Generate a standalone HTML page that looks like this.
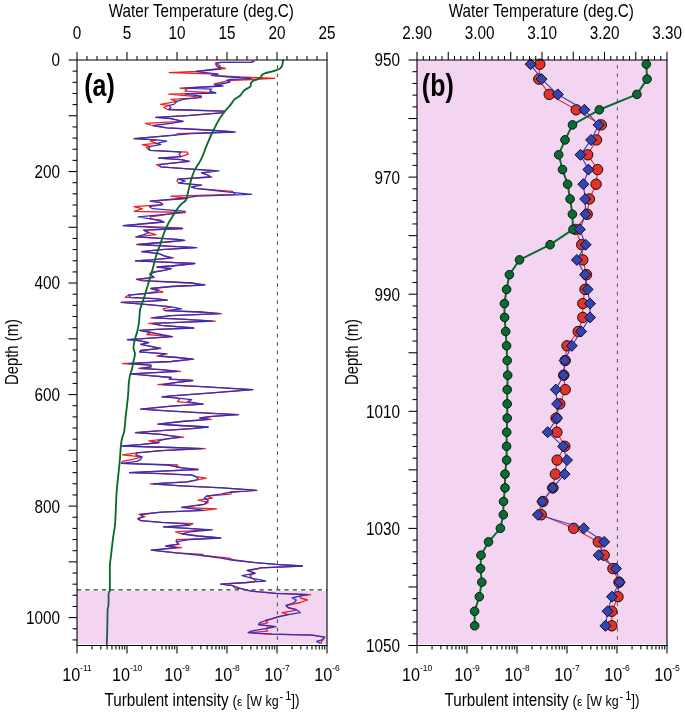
<!DOCTYPE html>
<html><head><meta charset="utf-8"><title>Figure</title>
<style>html,body{margin:0;padding:0;background:#fff;width:685px;height:714px;overflow:hidden}svg{display:block}</style>
</head><body>
<svg width="685" height="714" viewBox="0 0 685 714" font-family="'Liberation Sans', Arial, sans-serif"><rect x="77" y="591" width="250" height="53" fill="#f3d5f1"/>
<rect x="417" y="60" width="250" height="584" fill="#f3d5f1"/>
<line x1="277.4" y1="65" x2="277.4" y2="645" stroke="#444" stroke-width="1" stroke-dasharray="3.6 4.8"/>
<line x1="77" y1="589.8" x2="327" y2="589.8" stroke="#333" stroke-width="1.3" stroke-dasharray="4.2 4.1"/>
<line x1="617.4" y1="65" x2="617.4" y2="645" stroke="#555" stroke-width="1" stroke-dasharray="3.6 4.8"/>
<polyline points="254.4,61.1 251.3,62.1 221.7,62.3 215.5,62.9 216.1,64.2 220.1,65.7 217.6,66.7 225.3,68.5 196.0,71.5 169.2,72.7 218.0,74.2 211.5,75.3 240.0,77.0 274.7,78.3 252.2,79.5 226.8,80.5 223.4,82.0 214.2,84.0 215.0,85.2 220.0,86.0 180.0,88.1 187.2,89.1 185.0,91.1 215.8,92.8 168.8,94.2 191.3,96.2 201.5,97.7 170.9,99.3 177.0,101.3 160.7,104.4 168.8,105.4 163.7,107.5 167.8,109.5 223.0,111.2 224.0,112.6 187.2,115.7 156.6,117.3 170.9,118.7 183.1,121.4 145.3,123.4 152.5,125.5 166.8,127.9 207.7,130.0 232.2,132.0 178.0,133.6 175.0,135.1 134.1,138.6 156.6,139.8 150.4,141.2 156.6,143.3 142.3,144.7 150.4,146.3 146.3,147.4 148.4,149.4 150.4,150.4 187.2,152.1 188.2,154.1 181.1,156.6 158.6,158.2 181.1,159.6 189.3,161.3 177.0,162.7 156.6,164.7 160.7,166.8 181.1,168.4 216.0,170.9 201.5,172.9 207.7,175.0 211.7,177.0 178.0,179.1 177.0,181.1 179.0,183.2 201.5,185.2 191.3,186.9 195.4,188.3 232.2,191.3 235.2,194.4 170.9,196.1 187.2,198.5 150.4,201.2 160.7,202.6 162.7,204.6 134.1,206.7 142.3,208.7 134.1,211.4 185.2,212.5 170.9,213.8 150.4,216.9 150.4,218.9 160.7,220.5 162.0,222.0 123.3,225.7 181.5,227.8 182.6,228.6 143.7,230.2 148.8,232.7 156.0,234.7 135.5,236.8 177.4,239.4 184.6,240.4 161.1,242.5 136.6,244.5 167.2,246.2 196.9,247.6 161.1,249.6 141.7,251.7 159.0,253.7 164.2,255.8 173.4,257.8 150.9,259.9 135.5,260.9 159.0,261.9 194.8,263.5 171.3,266.0 157.0,267.0 171.3,268.7 165.2,270.1 150.9,272.2 149.9,274.2 153.9,277.3 136.6,279.3 142.7,280.9 191.7,283.0 199.9,285.0 171.3,286.5 150.9,288.5 159.0,290.5 163.1,292.0 144.7,293.6 128.4,295.2 125.3,297.3 155.0,298.7 167.2,300.2 146.8,301.4 121.2,302.4 150.9,304.9 171.3,306.9 163.1,308.9 165.0,310.6 199.9,312.0 221.4,313.7 171.3,315.7 150.9,317.8 181.5,319.2 215.3,321.2 148.8,323.3 161.1,325.3 193.8,328.0 157.0,329.4 139.6,330.4 150.9,332.5 146.8,334.5 172.3,336.6 150.9,338.2 127.4,339.6 138.6,340.7 148.8,342.7 140.7,344.3 150.9,346.4 161.1,348.4 140.7,350.5 139.6,351.9 167.2,353.9 157.0,356.0 177.4,357.5 193.8,359.1 171.3,361.5 122.3,363.6 150.9,365.2 150.9,366.9 138.6,368.3 161.1,369.7 180.5,371.4 130.4,373.8 146.8,375.4 171.3,377.5 169.3,379.1 192.8,380.5 175.4,382.6 158.0,384.6 202.0,386.7 252.0,389.7 212.2,392.8 171.3,395.9 162.1,396.9 177.4,397.9 179.5,399.6 177.4,401.6 203.0,404.1 171.3,406.1 140.7,409.2 171.3,411.2 212.2,413.3 238.7,414.7 212.2,416.3 199.9,418.0 211.2,419.4 181.5,421.5 158.0,424.1 179.5,425.5 208.1,427.0 191.7,428.6 161.1,430.7 135.5,432.7 161.1,434.3 171.3,435.8 183.6,437.2 167.2,438.8 148.8,440.9 159.0,442.5 140.7,444.6 122.3,446.0 171.5,447.5 205.2,448.7 161.3,450.7 136.8,452.8 122.5,454.8 141.9,456.9 132.7,459.3 122.5,461.3 121.5,463.4 177.7,465.0 175.6,466.5 181.7,467.9 198.1,469.5 161.3,471.2 129.6,472.6 161.3,473.6 192.0,475.2 196.1,476.7 206.3,478.1 196.1,480.2 185.8,481.8 150.1,483.8 181.7,485.9 222.6,487.9 255.0,490.3 231.5,492.0 230.8,494.1 206.3,496.1 212.4,498.2 198.1,500.2 208.3,502.3 204.2,504.3 181.7,507.4 216.5,508.8 204.2,510.4 161.3,512.1 138.8,514.5 145.0,516.6 137.8,518.6 140.9,520.7 161.3,522.3 193.0,523.7 189.9,525.2 163.4,526.8 187.9,528.4 206.3,529.9 175.6,531.9 181.7,533.9 198.1,536.0 220.6,538.0 176.3,539.7 176.3,541.6 178.9,544.2 165.8,546.0 181.5,547.6 151.3,550.2 176.3,552.9 203.0,554.4 203.0,555.5 229.3,558.1 234.1,560.0 255.1,562.6 276.1,564.4 302.4,566.0 260.4,567.8 257.7,569.2 247.2,570.5 255.1,573.1 249.8,575.7 252.5,578.4 256.4,581.0 247.2,582.5 220.7,584.1 232.9,585.7 239.3,587.8 243.1,589.2 251.3,591.2 275.8,593.3 310.6,594.7 300.4,595.9 300.4,598.0 307.5,600.0 300.4,602.5 286.1,605.5 288.1,607.6 296.3,609.6 294.2,610.7 282.0,612.7 288.1,614.7 277.9,616.8 271.7,618.8 265.6,620.5 267.7,622.9 258.5,624.6 273.8,626.6 265.6,628.6 267.7,631.1 249.3,632.7 271.7,634.2 312.6,635.2 323.9,637.2 322.8,639.7 321.8,641.3 320.8,643.4" fill="none" stroke="#f02020" stroke-width="1.3" stroke-linejoin="round" />
<polyline points="254.4,61.1 251.3,62.1 221.7,62.3 218.1,62.9 216.1,64.2 216.1,65.7 217.6,66.7 221.0,68.5 196.0,71.5 218.0,74.2 211.5,75.3 229.0,77.0 251.3,78.3 230.9,79.5 226.8,80.5 230.0,82.0 221.3,84.0 215.0,85.2 223.0,86.0 185.2,88.1 211.7,89.1 209.7,91.1 215.8,92.8 185.2,94.2 201.5,96.2 197.4,97.7 183.1,99.3 177.0,101.3 173.9,104.4 168.8,105.4 170.9,107.5 168.8,109.5 225.0,111.2 224.0,112.6 187.2,115.7 155.5,117.3 170.9,118.7 183.1,121.4 170.9,123.4 153.5,125.5 166.8,127.9 207.7,130.0 235.2,132.0 191.3,133.6 175.0,135.1 134.1,138.6 156.6,139.8 166.8,141.2 156.6,143.3 160.7,144.7 150.4,146.3 148.4,149.4 150.4,150.4 181.1,152.1 179.0,154.1 181.1,156.6 158.6,158.2 181.1,159.6 189.3,161.3 177.0,162.7 159.6,164.7 160.7,166.8 181.1,168.4 218.9,170.9 201.5,172.9 207.7,175.0 209.7,177.0 178.0,179.1 185.2,181.1 179.0,183.2 201.5,185.2 191.3,186.9 195.4,188.3 222.0,191.3 251.6,194.4 197.4,196.1 181.1,198.5 150.4,201.2 160.7,202.6 162.7,204.6 149.4,206.7 152.5,208.7 185.2,211.4 170.9,213.8 138.2,216.9 150.4,218.9 160.7,220.5 164.2,222.0 123.3,225.7 159.0,227.8 182.6,228.6 143.7,230.2 148.8,232.7 143.7,234.7 136.6,236.8 177.4,239.4 184.6,240.4 161.1,242.5 138.6,244.5 167.2,246.2 195.8,247.6 161.1,249.6 141.7,251.7 159.0,253.7 164.2,255.8 171.3,257.8 150.9,259.9 135.5,260.9 159.0,261.9 194.8,263.5 171.3,266.0 157.0,267.0 171.3,268.7 165.2,270.1 155.0,272.2 149.9,274.2 153.9,277.3 136.6,279.3 150.9,280.9 191.7,283.0 205.0,285.0 171.3,286.5 150.9,288.5 159.0,290.5 155.0,292.0 144.7,293.6 128.4,295.2 130.4,297.3 155.0,298.7 167.2,300.2 146.8,301.4 121.2,302.4 150.9,304.9 171.3,306.9 181.5,308.9 165.0,310.6 199.9,312.0 219.3,313.7 171.3,315.7 152.9,317.8 181.5,319.2 212.2,321.2 152.9,323.3 161.1,325.3 193.8,328.0 157.0,329.4 139.6,330.4 150.9,332.5 161.1,334.5 172.3,336.6 150.9,338.2 127.4,339.6 138.6,340.7 148.8,342.7 140.7,344.3 150.9,346.4 160.1,348.4 140.7,350.5 139.6,351.9 165.2,353.9 159.0,356.0 177.4,357.5 192.8,359.1 171.3,361.5 128.4,363.6 150.9,365.2 150.9,366.9 140.7,368.3 161.1,369.7 177.4,371.4 130.4,373.8 146.8,375.4 171.3,377.5 169.3,379.1 192.8,380.5 175.4,382.6 163.1,384.6 202.0,386.7 253.0,389.7 212.2,392.8 171.3,395.9 162.1,396.9 175.4,397.9 191.7,399.6 187.7,401.6 203.0,404.1 171.3,406.1 140.7,409.2 171.3,411.2 212.2,413.3 237.7,414.7 212.2,416.3 199.9,418.0 208.1,419.4 181.5,421.5 158.0,424.1 179.5,425.5 208.1,427.0 191.7,428.6 161.1,430.7 135.5,432.7 161.1,434.3 171.3,435.8 179.5,437.2 167.2,438.8 158.0,440.9 159.0,442.5 140.7,444.6 122.3,446.0 171.5,447.5 202.2,448.7 161.3,450.7 136.8,452.8 135.8,454.8 141.9,456.9 140.9,459.3 136.8,461.3 121.5,463.4 167.4,465.0 175.6,466.5 181.7,467.9 198.1,469.5 161.3,471.2 129.6,472.6 161.3,473.6 192.0,475.2 196.1,476.7 198.1,478.1 196.1,480.2 187.9,481.8 153.1,483.8 181.7,485.9 222.6,487.9 257.0,490.3 231.5,492.0 220.6,494.1 206.3,496.1 204.2,498.2 208.3,500.2 206.3,502.3 204.2,504.3 181.7,507.4 194.0,508.8 204.2,510.4 161.3,512.1 140.9,514.5 142.9,516.6 137.8,518.6 140.9,520.7 161.3,522.3 181.7,523.7 189.9,525.2 163.4,526.8 187.9,528.4 212.4,529.9 189.9,531.9 181.7,533.9 198.1,536.0 220.6,538.0 189.4,539.7 176.3,541.6 178.9,544.2 165.8,546.0 176.3,547.6 151.3,550.2 176.3,552.9 202.5,555.5 220.9,558.1 231.5,560.0 255.1,562.6 276.1,564.4 302.4,566.0 260.4,567.8 247.2,570.5 255.1,573.1 242.0,575.7 252.5,578.4 265.6,581.0 247.2,582.5 220.7,584.1 232.9,585.7 235.0,587.8 243.1,589.2 251.3,591.2 275.8,593.3 307.5,594.7 300.4,595.9 292.2,598.0 296.3,600.0 294.2,602.5 286.1,605.5 288.1,607.6 296.3,609.6 300.4,612.7 288.1,614.7 277.9,616.8 271.7,618.8 265.6,620.5 259.5,622.9 258.5,624.6 275.8,626.6 265.6,628.6 251.3,631.1 248.2,632.7 271.7,634.2 312.6,635.2 324.9,637.2 322.8,639.7 316.7,641.3 320.8,643.4" fill="none" stroke="#3030c0" stroke-width="1.3" stroke-linejoin="round" />
<path d="M283.10,60.50 C282.92,61.38 282.50,64.48 282.00,65.80 C281.50,67.12 281.02,67.67 280.10,68.40 C279.18,69.13 277.95,69.65 276.50,70.20 C275.05,70.75 273.23,71.22 271.40,71.70 C269.57,72.18 267.08,72.55 265.50,73.10 C263.92,73.65 262.75,74.20 261.90,75.00 C261.05,75.80 261.13,77.18 260.40,77.90 C259.67,78.62 258.72,78.82 257.50,79.30 C256.28,79.78 254.20,80.12 253.10,80.80 C252.00,81.48 251.32,82.48 250.90,83.40 C250.48,84.32 251.08,85.52 250.60,86.30 C250.12,87.08 249.03,87.43 248.00,88.10 C246.97,88.77 245.37,89.52 244.40,90.30 C243.43,91.08 242.93,91.88 242.20,92.80 C241.47,93.72 241.30,94.70 240.00,95.80 C238.70,96.90 235.95,97.93 234.40,99.40 C232.85,100.87 232.28,102.63 230.70,104.60 C229.12,106.57 226.73,108.88 224.90,111.20 C223.07,113.52 221.30,115.93 219.70,118.50 C218.10,121.07 216.65,124.02 215.30,126.60 C213.95,129.18 212.70,131.67 211.60,134.00 C210.50,136.33 209.68,138.28 208.70,140.60 C207.72,142.92 206.57,145.70 205.70,147.90 C204.83,150.10 204.35,151.72 203.50,153.80 C202.65,155.88 201.70,158.32 200.60,160.40 C199.50,162.48 198.00,164.45 196.90,166.30 C195.80,168.15 194.98,169.17 194.00,171.50 C193.02,173.83 191.87,177.37 191.00,180.30 C190.13,183.23 189.40,186.65 188.80,189.10 C188.20,191.55 187.88,193.17 187.40,195.00 C186.92,196.83 187.02,198.50 185.90,200.10 C184.78,201.70 182.30,202.88 180.70,204.60 C179.10,206.32 177.65,208.45 176.30,210.40 C174.95,212.35 173.82,214.33 172.60,216.30 C171.38,218.27 170.22,219.98 169.00,222.20 C167.78,224.42 166.40,227.03 165.30,229.60 C164.20,232.17 163.27,235.03 162.40,237.60 C161.53,240.17 160.97,242.53 160.10,245.00 C159.23,247.47 158.05,249.95 157.20,252.40 C156.35,254.85 155.73,257.02 155.00,259.70 C154.27,262.38 153.53,265.80 152.80,268.50 C152.07,271.20 151.33,273.45 150.60,275.90 C149.87,278.35 149.13,280.75 148.40,283.20 C147.67,285.65 146.93,288.15 146.20,290.60 C145.47,293.05 144.63,295.93 144.00,297.90 C143.37,299.87 143.05,300.43 142.40,302.40 C141.75,304.37 140.60,307.25 140.10,309.70 C139.60,312.15 139.63,314.65 139.40,317.10 C139.17,319.55 139.07,321.95 138.70,324.40 C138.33,326.85 137.82,329.35 137.20,331.80 C136.58,334.25 135.62,336.42 135.00,339.10 C134.38,341.78 133.50,345.45 133.50,347.90 C133.50,350.35 135.00,351.58 135.00,353.80 C135.00,356.02 133.98,358.75 133.50,361.20 C133.02,363.65 132.70,366.05 132.10,368.50 C131.50,370.95 130.45,373.45 129.90,375.90 C129.35,378.35 129.05,380.75 128.80,383.20 C128.55,385.65 128.60,387.80 128.40,390.60 C128.20,393.40 128.03,395.87 127.60,400.00 C127.17,404.13 126.35,410.27 125.80,415.40 C125.25,420.53 124.93,426.95 124.30,430.80 C123.67,434.65 122.57,435.93 122.00,438.50 C121.43,441.07 121.28,442.35 120.90,446.20 C120.52,450.05 120.17,456.47 119.70,461.60 C119.23,466.73 118.62,471.87 118.10,477.00 C117.58,482.13 116.95,487.73 116.60,492.40 C116.25,497.07 116.27,499.57 116.00,505.00 C115.73,510.43 115.50,519.45 115.00,525.00 C114.50,530.55 113.67,533.20 113.00,538.30 C112.33,543.40 111.52,551.17 111.00,555.60 C110.48,560.03 110.08,561.13 109.90,564.90 C109.72,568.67 109.92,573.92 109.90,578.20 C109.88,582.48 109.82,588.53 109.80,590.60" fill="none" stroke="#0a6a2e" stroke-width="1.85" stroke-linecap="round" stroke-linejoin="round"/>
<path d="M109.80,590.60 C109.60,591.17 108.80,592.43 108.60,594.00 C108.40,595.57 108.63,598.00 108.60,600.00 C108.57,602.00 108.55,604.50 108.40,606.00 C108.25,607.50 107.87,606.67 107.70,609.00 C107.53,611.33 107.48,616.17 107.40,620.00 C107.32,623.83 107.30,628.00 107.20,632.00 C107.10,636.00 106.87,642.00 106.80,644.00" fill="none" stroke="#1f5a4c" stroke-width="1.8" stroke-linecap="round" stroke-linejoin="round"/>
<polyline points="539.8,64.2 538.8,79.1 549.2,94.4 576.2,109.8 601.3,124.9 596.5,139.9 587.7,154.8 597.6,169.6 596.1,184.2 589.4,199.0 587.2,214.2 575.5,229.4 581.7,244.7 582.8,259.9 586.5,274.7 585.0,289.4 582.8,303.6 582.8,317.4 578.2,331.5 567.0,345.8 565.2,360.5 563.7,375.2 565.2,389.6 559.8,403.9 556.1,418.1 556.9,432.2 564.8,446.3 557.1,460.1 555.4,474.1 552.8,487.9 542.9,501.5 541.2,514.8 573.6,528.3 598.3,541.9 604.2,555.2 612.9,568.6 619.0,582.2 618.0,596.7 611.8,611.3 611.8,625.8" fill="none" stroke="#e8302a" stroke-width="1.15" stroke-linejoin="round" />
<circle cx="539.8" cy="64.2" r="5.2" fill="#e2332a" stroke="#1a0a0a" stroke-width="1"/>
<circle cx="538.8" cy="79.1" r="5.2" fill="#e2332a" stroke="#1a0a0a" stroke-width="1"/>
<circle cx="549.2" cy="94.4" r="5.2" fill="#e2332a" stroke="#1a0a0a" stroke-width="1"/>
<circle cx="576.2" cy="109.8" r="5.2" fill="#e2332a" stroke="#1a0a0a" stroke-width="1"/>
<circle cx="601.3" cy="124.9" r="5.2" fill="#e2332a" stroke="#1a0a0a" stroke-width="1"/>
<circle cx="596.5" cy="139.9" r="5.2" fill="#e2332a" stroke="#1a0a0a" stroke-width="1"/>
<circle cx="587.7" cy="154.8" r="5.2" fill="#e2332a" stroke="#1a0a0a" stroke-width="1"/>
<circle cx="597.6" cy="169.6" r="5.2" fill="#e2332a" stroke="#1a0a0a" stroke-width="1"/>
<circle cx="596.1" cy="184.2" r="5.2" fill="#e2332a" stroke="#1a0a0a" stroke-width="1"/>
<circle cx="589.4" cy="199.0" r="5.2" fill="#e2332a" stroke="#1a0a0a" stroke-width="1"/>
<circle cx="587.2" cy="214.2" r="5.2" fill="#e2332a" stroke="#1a0a0a" stroke-width="1"/>
<circle cx="575.5" cy="229.4" r="5.2" fill="#e2332a" stroke="#1a0a0a" stroke-width="1"/>
<circle cx="581.7" cy="244.7" r="5.2" fill="#e2332a" stroke="#1a0a0a" stroke-width="1"/>
<circle cx="582.8" cy="259.9" r="5.2" fill="#e2332a" stroke="#1a0a0a" stroke-width="1"/>
<circle cx="586.5" cy="274.7" r="5.2" fill="#e2332a" stroke="#1a0a0a" stroke-width="1"/>
<circle cx="585.0" cy="289.4" r="5.2" fill="#e2332a" stroke="#1a0a0a" stroke-width="1"/>
<circle cx="582.8" cy="303.6" r="5.2" fill="#e2332a" stroke="#1a0a0a" stroke-width="1"/>
<circle cx="582.8" cy="317.4" r="5.2" fill="#e2332a" stroke="#1a0a0a" stroke-width="1"/>
<circle cx="578.2" cy="331.5" r="5.2" fill="#e2332a" stroke="#1a0a0a" stroke-width="1"/>
<circle cx="567.0" cy="345.8" r="5.2" fill="#e2332a" stroke="#1a0a0a" stroke-width="1"/>
<circle cx="565.2" cy="360.5" r="5.2" fill="#e2332a" stroke="#1a0a0a" stroke-width="1"/>
<circle cx="563.7" cy="375.2" r="5.2" fill="#e2332a" stroke="#1a0a0a" stroke-width="1"/>
<circle cx="565.2" cy="389.6" r="5.2" fill="#e2332a" stroke="#1a0a0a" stroke-width="1"/>
<circle cx="559.8" cy="403.9" r="5.2" fill="#e2332a" stroke="#1a0a0a" stroke-width="1"/>
<circle cx="556.1" cy="418.1" r="5.2" fill="#e2332a" stroke="#1a0a0a" stroke-width="1"/>
<circle cx="556.9" cy="432.2" r="5.2" fill="#e2332a" stroke="#1a0a0a" stroke-width="1"/>
<circle cx="564.8" cy="446.3" r="5.2" fill="#e2332a" stroke="#1a0a0a" stroke-width="1"/>
<circle cx="557.1" cy="460.1" r="5.2" fill="#e2332a" stroke="#1a0a0a" stroke-width="1"/>
<circle cx="555.4" cy="474.1" r="5.2" fill="#e2332a" stroke="#1a0a0a" stroke-width="1"/>
<circle cx="552.8" cy="487.9" r="5.2" fill="#e2332a" stroke="#1a0a0a" stroke-width="1"/>
<circle cx="542.9" cy="501.5" r="5.2" fill="#e2332a" stroke="#1a0a0a" stroke-width="1"/>
<circle cx="541.2" cy="514.8" r="5.2" fill="#e2332a" stroke="#1a0a0a" stroke-width="1"/>
<circle cx="573.6" cy="528.3" r="5.2" fill="#e2332a" stroke="#1a0a0a" stroke-width="1"/>
<circle cx="598.3" cy="541.9" r="5.2" fill="#e2332a" stroke="#1a0a0a" stroke-width="1"/>
<circle cx="604.2" cy="555.2" r="5.2" fill="#e2332a" stroke="#1a0a0a" stroke-width="1"/>
<circle cx="612.9" cy="568.6" r="5.2" fill="#e2332a" stroke="#1a0a0a" stroke-width="1"/>
<circle cx="619.0" cy="582.2" r="5.2" fill="#e2332a" stroke="#1a0a0a" stroke-width="1"/>
<circle cx="618.0" cy="596.7" r="5.2" fill="#e2332a" stroke="#1a0a0a" stroke-width="1"/>
<circle cx="611.8" cy="611.3" r="5.2" fill="#e2332a" stroke="#1a0a0a" stroke-width="1"/>
<circle cx="611.8" cy="625.8" r="5.2" fill="#e2332a" stroke="#1a0a0a" stroke-width="1"/>
<polyline points="646.3,64.2 647.1,79.1 636.9,94.4 599.3,109.8 572.5,124.9 565.0,139.9 558.7,154.8 562.5,169.6 567.6,184.2 570.1,199.0 572.4,214.2 573.0,229.4 550.1,244.7 519.5,259.9 509.4,274.7 506.6,289.4 504.4,303.6 504.6,317.4 505.7,331.5 506.6,345.8 507.2,360.5 507.7,375.2 507.2,389.6 507.2,403.9 507.2,418.1 506.7,432.2 506.6,446.3 506.6,460.1 505.0,474.1 505.0,487.9 503.5,501.5 503.3,514.8 500.4,528.3 488.5,541.9 481.0,555.2 480.5,568.6 481.8,582.2 479.3,596.7 474.6,611.3 474.7,625.8" fill="none" stroke="#0b6b30" stroke-width="2.0" stroke-linejoin="round" />
<circle cx="646.3" cy="64.2" r="4.3" fill="#0b6b35" stroke="#061a0c" stroke-width="1"/>
<circle cx="647.1" cy="79.1" r="4.3" fill="#0b6b35" stroke="#061a0c" stroke-width="1"/>
<circle cx="636.9" cy="94.4" r="4.3" fill="#0b6b35" stroke="#061a0c" stroke-width="1"/>
<circle cx="599.3" cy="109.8" r="4.3" fill="#0b6b35" stroke="#061a0c" stroke-width="1"/>
<circle cx="572.5" cy="124.9" r="4.3" fill="#0b6b35" stroke="#061a0c" stroke-width="1"/>
<circle cx="565.0" cy="139.9" r="4.3" fill="#0b6b35" stroke="#061a0c" stroke-width="1"/>
<circle cx="558.7" cy="154.8" r="4.3" fill="#0b6b35" stroke="#061a0c" stroke-width="1"/>
<circle cx="562.5" cy="169.6" r="4.3" fill="#0b6b35" stroke="#061a0c" stroke-width="1"/>
<circle cx="567.6" cy="184.2" r="4.3" fill="#0b6b35" stroke="#061a0c" stroke-width="1"/>
<circle cx="570.1" cy="199.0" r="4.3" fill="#0b6b35" stroke="#061a0c" stroke-width="1"/>
<circle cx="572.4" cy="214.2" r="4.3" fill="#0b6b35" stroke="#061a0c" stroke-width="1"/>
<circle cx="573.0" cy="229.4" r="4.3" fill="#0b6b35" stroke="#061a0c" stroke-width="1"/>
<circle cx="550.1" cy="244.7" r="4.3" fill="#0b6b35" stroke="#061a0c" stroke-width="1"/>
<circle cx="519.5" cy="259.9" r="4.3" fill="#0b6b35" stroke="#061a0c" stroke-width="1"/>
<circle cx="509.4" cy="274.7" r="4.3" fill="#0b6b35" stroke="#061a0c" stroke-width="1"/>
<circle cx="506.6" cy="289.4" r="4.3" fill="#0b6b35" stroke="#061a0c" stroke-width="1"/>
<circle cx="504.4" cy="303.6" r="4.3" fill="#0b6b35" stroke="#061a0c" stroke-width="1"/>
<circle cx="504.6" cy="317.4" r="4.3" fill="#0b6b35" stroke="#061a0c" stroke-width="1"/>
<circle cx="505.7" cy="331.5" r="4.3" fill="#0b6b35" stroke="#061a0c" stroke-width="1"/>
<circle cx="506.6" cy="345.8" r="4.3" fill="#0b6b35" stroke="#061a0c" stroke-width="1"/>
<circle cx="507.2" cy="360.5" r="4.3" fill="#0b6b35" stroke="#061a0c" stroke-width="1"/>
<circle cx="507.7" cy="375.2" r="4.3" fill="#0b6b35" stroke="#061a0c" stroke-width="1"/>
<circle cx="507.2" cy="389.6" r="4.3" fill="#0b6b35" stroke="#061a0c" stroke-width="1"/>
<circle cx="507.2" cy="403.9" r="4.3" fill="#0b6b35" stroke="#061a0c" stroke-width="1"/>
<circle cx="507.2" cy="418.1" r="4.3" fill="#0b6b35" stroke="#061a0c" stroke-width="1"/>
<circle cx="506.7" cy="432.2" r="4.3" fill="#0b6b35" stroke="#061a0c" stroke-width="1"/>
<circle cx="506.6" cy="446.3" r="4.3" fill="#0b6b35" stroke="#061a0c" stroke-width="1"/>
<circle cx="506.6" cy="460.1" r="4.3" fill="#0b6b35" stroke="#061a0c" stroke-width="1"/>
<circle cx="505.0" cy="474.1" r="4.3" fill="#0b6b35" stroke="#061a0c" stroke-width="1"/>
<circle cx="505.0" cy="487.9" r="4.3" fill="#0b6b35" stroke="#061a0c" stroke-width="1"/>
<circle cx="503.5" cy="501.5" r="4.3" fill="#0b6b35" stroke="#061a0c" stroke-width="1"/>
<circle cx="503.3" cy="514.8" r="4.3" fill="#0b6b35" stroke="#061a0c" stroke-width="1"/>
<circle cx="500.4" cy="528.3" r="4.3" fill="#0b6b35" stroke="#061a0c" stroke-width="1"/>
<circle cx="488.5" cy="541.9" r="4.3" fill="#0b6b35" stroke="#061a0c" stroke-width="1"/>
<circle cx="481.0" cy="555.2" r="4.3" fill="#0b6b35" stroke="#061a0c" stroke-width="1"/>
<circle cx="480.5" cy="568.6" r="4.3" fill="#0b6b35" stroke="#061a0c" stroke-width="1"/>
<circle cx="481.8" cy="582.2" r="4.3" fill="#0b6b35" stroke="#061a0c" stroke-width="1"/>
<circle cx="479.3" cy="596.7" r="4.3" fill="#0b6b35" stroke="#061a0c" stroke-width="1"/>
<circle cx="474.6" cy="611.3" r="4.3" fill="#0b6b35" stroke="#061a0c" stroke-width="1"/>
<circle cx="474.7" cy="625.8" r="4.3" fill="#0b6b35" stroke="#061a0c" stroke-width="1"/>
<polyline points="530.6,64.2 541.5,79.1 557.8,94.4 584.4,109.8 598.7,124.9 591.1,139.9 580.5,154.8 588.4,169.6 583.4,184.2 585.2,199.0 585.5,214.2 579.8,229.4 585.6,244.7 576.9,259.9 585.0,274.7 587.6,289.4 590.0,303.6 590.0,317.4 581.1,331.5 571.8,345.8 564.8,360.5 563.7,375.2 555.8,389.6 557.1,403.9 557.1,418.1 547.7,432.2 563.1,446.3 567.0,460.1 564.6,474.1 552.8,487.9 542.3,501.5 537.9,514.8 583.8,528.3 604.2,541.9 598.7,555.2 616.0,568.6 619.7,582.2 612.0,596.7 607.6,611.3 605.5,625.8" fill="none" stroke="#3a40b8" stroke-width="1.15" stroke-linejoin="round" />
<path d="M530.6,58.7 L536.1,64.2 L530.6,69.7 L525.1,64.2 Z" fill="#3545ad" stroke="#0a0a30" stroke-width="1"/>
<path d="M541.5,73.6 L547.0,79.1 L541.5,84.6 L536.0,79.1 Z" fill="#3545ad" stroke="#0a0a30" stroke-width="1"/>
<path d="M557.8,88.9 L563.3,94.4 L557.8,99.9 L552.3,94.4 Z" fill="#3545ad" stroke="#0a0a30" stroke-width="1"/>
<path d="M584.4,104.3 L589.9,109.8 L584.4,115.3 L578.9,109.8 Z" fill="#3545ad" stroke="#0a0a30" stroke-width="1"/>
<path d="M598.7,119.4 L604.2,124.9 L598.7,130.4 L593.2,124.9 Z" fill="#3545ad" stroke="#0a0a30" stroke-width="1"/>
<path d="M591.1,134.4 L596.6,139.9 L591.1,145.4 L585.6,139.9 Z" fill="#3545ad" stroke="#0a0a30" stroke-width="1"/>
<path d="M580.5,149.3 L586.0,154.8 L580.5,160.3 L575.0,154.8 Z" fill="#3545ad" stroke="#0a0a30" stroke-width="1"/>
<path d="M588.4,164.1 L593.9,169.6 L588.4,175.1 L582.9,169.6 Z" fill="#3545ad" stroke="#0a0a30" stroke-width="1"/>
<path d="M583.4,178.7 L588.9,184.2 L583.4,189.7 L577.9,184.2 Z" fill="#3545ad" stroke="#0a0a30" stroke-width="1"/>
<path d="M585.2,193.5 L590.7,199.0 L585.2,204.5 L579.7,199.0 Z" fill="#3545ad" stroke="#0a0a30" stroke-width="1"/>
<path d="M585.5,208.7 L591.0,214.2 L585.5,219.7 L580.0,214.2 Z" fill="#3545ad" stroke="#0a0a30" stroke-width="1"/>
<path d="M579.8,223.9 L585.3,229.4 L579.8,234.9 L574.3,229.4 Z" fill="#3545ad" stroke="#0a0a30" stroke-width="1"/>
<path d="M585.6,239.2 L591.1,244.7 L585.6,250.2 L580.1,244.7 Z" fill="#3545ad" stroke="#0a0a30" stroke-width="1"/>
<path d="M576.9,254.4 L582.4,259.9 L576.9,265.4 L571.4,259.9 Z" fill="#3545ad" stroke="#0a0a30" stroke-width="1"/>
<path d="M585.0,269.2 L590.5,274.7 L585.0,280.2 L579.5,274.7 Z" fill="#3545ad" stroke="#0a0a30" stroke-width="1"/>
<path d="M587.6,283.9 L593.1,289.4 L587.6,294.9 L582.1,289.4 Z" fill="#3545ad" stroke="#0a0a30" stroke-width="1"/>
<path d="M590.0,298.1 L595.5,303.6 L590.0,309.1 L584.5,303.6 Z" fill="#3545ad" stroke="#0a0a30" stroke-width="1"/>
<path d="M590.0,311.9 L595.5,317.4 L590.0,322.9 L584.5,317.4 Z" fill="#3545ad" stroke="#0a0a30" stroke-width="1"/>
<path d="M581.1,326.0 L586.6,331.5 L581.1,337.0 L575.6,331.5 Z" fill="#3545ad" stroke="#0a0a30" stroke-width="1"/>
<path d="M571.8,340.3 L577.3,345.8 L571.8,351.3 L566.3,345.8 Z" fill="#3545ad" stroke="#0a0a30" stroke-width="1"/>
<path d="M564.8,355.0 L570.3,360.5 L564.8,366.0 L559.3,360.5 Z" fill="#3545ad" stroke="#0a0a30" stroke-width="1"/>
<path d="M563.7,369.7 L569.2,375.2 L563.7,380.7 L558.2,375.2 Z" fill="#3545ad" stroke="#0a0a30" stroke-width="1"/>
<path d="M555.8,384.1 L561.3,389.6 L555.8,395.1 L550.3,389.6 Z" fill="#3545ad" stroke="#0a0a30" stroke-width="1"/>
<path d="M557.1,398.4 L562.6,403.9 L557.1,409.4 L551.6,403.9 Z" fill="#3545ad" stroke="#0a0a30" stroke-width="1"/>
<path d="M557.1,412.6 L562.6,418.1 L557.1,423.6 L551.6,418.1 Z" fill="#3545ad" stroke="#0a0a30" stroke-width="1"/>
<path d="M547.7,426.7 L553.2,432.2 L547.7,437.7 L542.2,432.2 Z" fill="#3545ad" stroke="#0a0a30" stroke-width="1"/>
<path d="M563.1,440.8 L568.6,446.3 L563.1,451.8 L557.6,446.3 Z" fill="#3545ad" stroke="#0a0a30" stroke-width="1"/>
<path d="M567.0,454.6 L572.5,460.1 L567.0,465.6 L561.5,460.1 Z" fill="#3545ad" stroke="#0a0a30" stroke-width="1"/>
<path d="M564.6,468.6 L570.1,474.1 L564.6,479.6 L559.1,474.1 Z" fill="#3545ad" stroke="#0a0a30" stroke-width="1"/>
<path d="M552.8,482.4 L558.3,487.9 L552.8,493.4 L547.3,487.9 Z" fill="#3545ad" stroke="#0a0a30" stroke-width="1"/>
<path d="M542.3,496.0 L547.8,501.5 L542.3,507.0 L536.8,501.5 Z" fill="#3545ad" stroke="#0a0a30" stroke-width="1"/>
<path d="M537.9,509.3 L543.4,514.8 L537.9,520.3 L532.4,514.8 Z" fill="#3545ad" stroke="#0a0a30" stroke-width="1"/>
<path d="M583.8,522.8 L589.3,528.3 L583.8,533.8 L578.3,528.3 Z" fill="#3545ad" stroke="#0a0a30" stroke-width="1"/>
<path d="M604.2,536.4 L609.7,541.9 L604.2,547.4 L598.7,541.9 Z" fill="#3545ad" stroke="#0a0a30" stroke-width="1"/>
<path d="M598.7,549.7 L604.2,555.2 L598.7,560.7 L593.2,555.2 Z" fill="#3545ad" stroke="#0a0a30" stroke-width="1"/>
<path d="M616.0,563.1 L621.5,568.6 L616.0,574.1 L610.5,568.6 Z" fill="#3545ad" stroke="#0a0a30" stroke-width="1"/>
<path d="M619.7,576.7 L625.2,582.2 L619.7,587.7 L614.2,582.2 Z" fill="#3545ad" stroke="#0a0a30" stroke-width="1"/>
<path d="M612.0,591.2 L617.5,596.7 L612.0,602.2 L606.5,596.7 Z" fill="#3545ad" stroke="#0a0a30" stroke-width="1"/>
<path d="M607.6,605.8 L613.1,611.3 L607.6,616.8 L602.1,611.3 Z" fill="#3545ad" stroke="#0a0a30" stroke-width="1"/>
<path d="M605.5,620.3 L611.0,625.8 L605.5,631.3 L600.0,625.8 Z" fill="#3545ad" stroke="#0a0a30" stroke-width="1"/>
<path d="M77,645.5 L77,60 L327,60 L327,645.5" fill="none" stroke="#000" stroke-width="1.1"/>
<line x1="76.5" y1="645.5" x2="327.5" y2="645.5" stroke="#000" stroke-width="1.1"/>
<line x1="68.5" y1="60.00" x2="77" y2="60.00" stroke="#000" stroke-width="1.05"/>
<line x1="72.5" y1="71.15" x2="77" y2="71.15" stroke="#000" stroke-width="1.05"/>
<line x1="72.5" y1="82.30" x2="77" y2="82.30" stroke="#000" stroke-width="1.05"/>
<line x1="72.5" y1="93.46" x2="77" y2="93.46" stroke="#000" stroke-width="1.05"/>
<line x1="72.5" y1="104.61" x2="77" y2="104.61" stroke="#000" stroke-width="1.05"/>
<line x1="68.5" y1="115.76" x2="77" y2="115.76" stroke="#000" stroke-width="1.05"/>
<line x1="72.5" y1="126.91" x2="77" y2="126.91" stroke="#000" stroke-width="1.05"/>
<line x1="72.5" y1="138.07" x2="77" y2="138.07" stroke="#000" stroke-width="1.05"/>
<line x1="72.5" y1="149.22" x2="77" y2="149.22" stroke="#000" stroke-width="1.05"/>
<line x1="72.5" y1="160.37" x2="77" y2="160.37" stroke="#000" stroke-width="1.05"/>
<line x1="68.5" y1="171.52" x2="77" y2="171.52" stroke="#000" stroke-width="1.05"/>
<line x1="72.5" y1="182.68" x2="77" y2="182.68" stroke="#000" stroke-width="1.05"/>
<line x1="72.5" y1="193.83" x2="77" y2="193.83" stroke="#000" stroke-width="1.05"/>
<line x1="72.5" y1="204.98" x2="77" y2="204.98" stroke="#000" stroke-width="1.05"/>
<line x1="72.5" y1="216.13" x2="77" y2="216.13" stroke="#000" stroke-width="1.05"/>
<line x1="68.5" y1="227.29" x2="77" y2="227.29" stroke="#000" stroke-width="1.05"/>
<line x1="72.5" y1="238.44" x2="77" y2="238.44" stroke="#000" stroke-width="1.05"/>
<line x1="72.5" y1="249.59" x2="77" y2="249.59" stroke="#000" stroke-width="1.05"/>
<line x1="72.5" y1="260.74" x2="77" y2="260.74" stroke="#000" stroke-width="1.05"/>
<line x1="72.5" y1="271.90" x2="77" y2="271.90" stroke="#000" stroke-width="1.05"/>
<line x1="68.5" y1="283.05" x2="77" y2="283.05" stroke="#000" stroke-width="1.05"/>
<line x1="72.5" y1="294.20" x2="77" y2="294.20" stroke="#000" stroke-width="1.05"/>
<line x1="72.5" y1="305.35" x2="77" y2="305.35" stroke="#000" stroke-width="1.05"/>
<line x1="72.5" y1="316.50" x2="77" y2="316.50" stroke="#000" stroke-width="1.05"/>
<line x1="72.5" y1="327.66" x2="77" y2="327.66" stroke="#000" stroke-width="1.05"/>
<line x1="68.5" y1="338.81" x2="77" y2="338.81" stroke="#000" stroke-width="1.05"/>
<line x1="72.5" y1="349.96" x2="77" y2="349.96" stroke="#000" stroke-width="1.05"/>
<line x1="72.5" y1="361.11" x2="77" y2="361.11" stroke="#000" stroke-width="1.05"/>
<line x1="72.5" y1="372.27" x2="77" y2="372.27" stroke="#000" stroke-width="1.05"/>
<line x1="72.5" y1="383.42" x2="77" y2="383.42" stroke="#000" stroke-width="1.05"/>
<line x1="68.5" y1="394.57" x2="77" y2="394.57" stroke="#000" stroke-width="1.05"/>
<line x1="72.5" y1="405.72" x2="77" y2="405.72" stroke="#000" stroke-width="1.05"/>
<line x1="72.5" y1="416.88" x2="77" y2="416.88" stroke="#000" stroke-width="1.05"/>
<line x1="72.5" y1="428.03" x2="77" y2="428.03" stroke="#000" stroke-width="1.05"/>
<line x1="72.5" y1="439.18" x2="77" y2="439.18" stroke="#000" stroke-width="1.05"/>
<line x1="68.5" y1="450.33" x2="77" y2="450.33" stroke="#000" stroke-width="1.05"/>
<line x1="72.5" y1="461.49" x2="77" y2="461.49" stroke="#000" stroke-width="1.05"/>
<line x1="72.5" y1="472.64" x2="77" y2="472.64" stroke="#000" stroke-width="1.05"/>
<line x1="72.5" y1="483.79" x2="77" y2="483.79" stroke="#000" stroke-width="1.05"/>
<line x1="72.5" y1="494.94" x2="77" y2="494.94" stroke="#000" stroke-width="1.05"/>
<line x1="68.5" y1="506.10" x2="77" y2="506.10" stroke="#000" stroke-width="1.05"/>
<line x1="72.5" y1="517.25" x2="77" y2="517.25" stroke="#000" stroke-width="1.05"/>
<line x1="72.5" y1="528.40" x2="77" y2="528.40" stroke="#000" stroke-width="1.05"/>
<line x1="72.5" y1="539.55" x2="77" y2="539.55" stroke="#000" stroke-width="1.05"/>
<line x1="72.5" y1="550.70" x2="77" y2="550.70" stroke="#000" stroke-width="1.05"/>
<line x1="68.5" y1="561.86" x2="77" y2="561.86" stroke="#000" stroke-width="1.05"/>
<line x1="72.5" y1="573.01" x2="77" y2="573.01" stroke="#000" stroke-width="1.05"/>
<line x1="72.5" y1="584.16" x2="77" y2="584.16" stroke="#000" stroke-width="1.05"/>
<line x1="72.5" y1="595.31" x2="77" y2="595.31" stroke="#000" stroke-width="1.05"/>
<line x1="72.5" y1="606.47" x2="77" y2="606.47" stroke="#000" stroke-width="1.05"/>
<line x1="68.5" y1="617.62" x2="77" y2="617.62" stroke="#000" stroke-width="1.05"/>
<line x1="72.5" y1="628.77" x2="77" y2="628.77" stroke="#000" stroke-width="1.05"/>
<line x1="72.5" y1="639.92" x2="77" y2="639.92" stroke="#000" stroke-width="1.05"/>
<line x1="77.00" y1="52" x2="77.00" y2="60" stroke="#000" stroke-width="1.05"/>
<line x1="87.00" y1="56" x2="87.00" y2="60" stroke="#000" stroke-width="1.05"/>
<line x1="97.00" y1="56" x2="97.00" y2="60" stroke="#000" stroke-width="1.05"/>
<line x1="107.00" y1="56" x2="107.00" y2="60" stroke="#000" stroke-width="1.05"/>
<line x1="117.00" y1="56" x2="117.00" y2="60" stroke="#000" stroke-width="1.05"/>
<line x1="127.00" y1="52" x2="127.00" y2="60" stroke="#000" stroke-width="1.05"/>
<line x1="137.00" y1="56" x2="137.00" y2="60" stroke="#000" stroke-width="1.05"/>
<line x1="147.00" y1="56" x2="147.00" y2="60" stroke="#000" stroke-width="1.05"/>
<line x1="157.00" y1="56" x2="157.00" y2="60" stroke="#000" stroke-width="1.05"/>
<line x1="167.00" y1="56" x2="167.00" y2="60" stroke="#000" stroke-width="1.05"/>
<line x1="177.00" y1="52" x2="177.00" y2="60" stroke="#000" stroke-width="1.05"/>
<line x1="187.00" y1="56" x2="187.00" y2="60" stroke="#000" stroke-width="1.05"/>
<line x1="197.00" y1="56" x2="197.00" y2="60" stroke="#000" stroke-width="1.05"/>
<line x1="207.00" y1="56" x2="207.00" y2="60" stroke="#000" stroke-width="1.05"/>
<line x1="217.00" y1="56" x2="217.00" y2="60" stroke="#000" stroke-width="1.05"/>
<line x1="227.00" y1="52" x2="227.00" y2="60" stroke="#000" stroke-width="1.05"/>
<line x1="237.00" y1="56" x2="237.00" y2="60" stroke="#000" stroke-width="1.05"/>
<line x1="247.00" y1="56" x2="247.00" y2="60" stroke="#000" stroke-width="1.05"/>
<line x1="257.00" y1="56" x2="257.00" y2="60" stroke="#000" stroke-width="1.05"/>
<line x1="267.00" y1="56" x2="267.00" y2="60" stroke="#000" stroke-width="1.05"/>
<line x1="277.00" y1="52" x2="277.00" y2="60" stroke="#000" stroke-width="1.05"/>
<line x1="287.00" y1="56" x2="287.00" y2="60" stroke="#000" stroke-width="1.05"/>
<line x1="297.00" y1="56" x2="297.00" y2="60" stroke="#000" stroke-width="1.05"/>
<line x1="307.00" y1="56" x2="307.00" y2="60" stroke="#000" stroke-width="1.05"/>
<line x1="317.00" y1="56" x2="317.00" y2="60" stroke="#000" stroke-width="1.05"/>
<line x1="327.00" y1="52" x2="327.00" y2="60" stroke="#000" stroke-width="1.05"/>
<line x1="77.00" y1="645.5" x2="77.00" y2="653.5" stroke="#000" stroke-width="1.05"/>
<line x1="92.05" y1="645.5" x2="92.05" y2="649.5" stroke="#000" stroke-width="1.05"/>
<line x1="100.86" y1="645.5" x2="100.86" y2="649.5" stroke="#000" stroke-width="1.05"/>
<line x1="107.10" y1="645.5" x2="107.10" y2="649.5" stroke="#000" stroke-width="1.05"/>
<line x1="111.95" y1="645.5" x2="111.95" y2="649.5" stroke="#000" stroke-width="1.05"/>
<line x1="115.91" y1="645.5" x2="115.91" y2="649.5" stroke="#000" stroke-width="1.05"/>
<line x1="119.25" y1="645.5" x2="119.25" y2="649.5" stroke="#000" stroke-width="1.05"/>
<line x1="122.15" y1="645.5" x2="122.15" y2="649.5" stroke="#000" stroke-width="1.05"/>
<line x1="124.71" y1="645.5" x2="124.71" y2="649.5" stroke="#000" stroke-width="1.05"/>
<line x1="127.00" y1="645.5" x2="127.00" y2="653.5" stroke="#000" stroke-width="1.05"/>
<line x1="142.05" y1="645.5" x2="142.05" y2="649.5" stroke="#000" stroke-width="1.05"/>
<line x1="150.86" y1="645.5" x2="150.86" y2="649.5" stroke="#000" stroke-width="1.05"/>
<line x1="157.10" y1="645.5" x2="157.10" y2="649.5" stroke="#000" stroke-width="1.05"/>
<line x1="161.95" y1="645.5" x2="161.95" y2="649.5" stroke="#000" stroke-width="1.05"/>
<line x1="165.91" y1="645.5" x2="165.91" y2="649.5" stroke="#000" stroke-width="1.05"/>
<line x1="169.25" y1="645.5" x2="169.25" y2="649.5" stroke="#000" stroke-width="1.05"/>
<line x1="172.15" y1="645.5" x2="172.15" y2="649.5" stroke="#000" stroke-width="1.05"/>
<line x1="174.71" y1="645.5" x2="174.71" y2="649.5" stroke="#000" stroke-width="1.05"/>
<line x1="177.00" y1="645.5" x2="177.00" y2="653.5" stroke="#000" stroke-width="1.05"/>
<line x1="192.05" y1="645.5" x2="192.05" y2="649.5" stroke="#000" stroke-width="1.05"/>
<line x1="200.86" y1="645.5" x2="200.86" y2="649.5" stroke="#000" stroke-width="1.05"/>
<line x1="207.10" y1="645.5" x2="207.10" y2="649.5" stroke="#000" stroke-width="1.05"/>
<line x1="211.95" y1="645.5" x2="211.95" y2="649.5" stroke="#000" stroke-width="1.05"/>
<line x1="215.91" y1="645.5" x2="215.91" y2="649.5" stroke="#000" stroke-width="1.05"/>
<line x1="219.25" y1="645.5" x2="219.25" y2="649.5" stroke="#000" stroke-width="1.05"/>
<line x1="222.15" y1="645.5" x2="222.15" y2="649.5" stroke="#000" stroke-width="1.05"/>
<line x1="224.71" y1="645.5" x2="224.71" y2="649.5" stroke="#000" stroke-width="1.05"/>
<line x1="227.00" y1="645.5" x2="227.00" y2="653.5" stroke="#000" stroke-width="1.05"/>
<line x1="242.05" y1="645.5" x2="242.05" y2="649.5" stroke="#000" stroke-width="1.05"/>
<line x1="250.86" y1="645.5" x2="250.86" y2="649.5" stroke="#000" stroke-width="1.05"/>
<line x1="257.10" y1="645.5" x2="257.10" y2="649.5" stroke="#000" stroke-width="1.05"/>
<line x1="261.95" y1="645.5" x2="261.95" y2="649.5" stroke="#000" stroke-width="1.05"/>
<line x1="265.91" y1="645.5" x2="265.91" y2="649.5" stroke="#000" stroke-width="1.05"/>
<line x1="269.25" y1="645.5" x2="269.25" y2="649.5" stroke="#000" stroke-width="1.05"/>
<line x1="272.15" y1="645.5" x2="272.15" y2="649.5" stroke="#000" stroke-width="1.05"/>
<line x1="274.71" y1="645.5" x2="274.71" y2="649.5" stroke="#000" stroke-width="1.05"/>
<line x1="277.00" y1="645.5" x2="277.00" y2="653.5" stroke="#000" stroke-width="1.05"/>
<line x1="292.05" y1="645.5" x2="292.05" y2="649.5" stroke="#000" stroke-width="1.05"/>
<line x1="300.86" y1="645.5" x2="300.86" y2="649.5" stroke="#000" stroke-width="1.05"/>
<line x1="307.10" y1="645.5" x2="307.10" y2="649.5" stroke="#000" stroke-width="1.05"/>
<line x1="311.95" y1="645.5" x2="311.95" y2="649.5" stroke="#000" stroke-width="1.05"/>
<line x1="315.91" y1="645.5" x2="315.91" y2="649.5" stroke="#000" stroke-width="1.05"/>
<line x1="319.25" y1="645.5" x2="319.25" y2="649.5" stroke="#000" stroke-width="1.05"/>
<line x1="322.15" y1="645.5" x2="322.15" y2="649.5" stroke="#000" stroke-width="1.05"/>
<line x1="324.71" y1="645.5" x2="324.71" y2="649.5" stroke="#000" stroke-width="1.05"/>
<line x1="327.00" y1="645.5" x2="327.00" y2="653.5" stroke="#000" stroke-width="1.05"/>
<path d="M417,645.5 L417,60 L667,60 L667,645.5" fill="none" stroke="#000" stroke-width="1.1"/>
<line x1="416.5" y1="645.5" x2="667.5" y2="645.5" stroke="#000" stroke-width="1.1"/>
<line x1="408.5" y1="60.00" x2="417" y2="60.00" stroke="#000" stroke-width="1.05"/>
<line x1="412.5" y1="71.71" x2="417" y2="71.71" stroke="#000" stroke-width="1.05"/>
<line x1="412.5" y1="83.42" x2="417" y2="83.42" stroke="#000" stroke-width="1.05"/>
<line x1="412.5" y1="95.13" x2="417" y2="95.13" stroke="#000" stroke-width="1.05"/>
<line x1="412.5" y1="106.84" x2="417" y2="106.84" stroke="#000" stroke-width="1.05"/>
<line x1="408.5" y1="118.55" x2="417" y2="118.55" stroke="#000" stroke-width="1.05"/>
<line x1="412.5" y1="130.26" x2="417" y2="130.26" stroke="#000" stroke-width="1.05"/>
<line x1="412.5" y1="141.97" x2="417" y2="141.97" stroke="#000" stroke-width="1.05"/>
<line x1="412.5" y1="153.68" x2="417" y2="153.68" stroke="#000" stroke-width="1.05"/>
<line x1="412.5" y1="165.39" x2="417" y2="165.39" stroke="#000" stroke-width="1.05"/>
<line x1="408.5" y1="177.10" x2="417" y2="177.10" stroke="#000" stroke-width="1.05"/>
<line x1="412.5" y1="188.81" x2="417" y2="188.81" stroke="#000" stroke-width="1.05"/>
<line x1="412.5" y1="200.52" x2="417" y2="200.52" stroke="#000" stroke-width="1.05"/>
<line x1="412.5" y1="212.23" x2="417" y2="212.23" stroke="#000" stroke-width="1.05"/>
<line x1="412.5" y1="223.94" x2="417" y2="223.94" stroke="#000" stroke-width="1.05"/>
<line x1="408.5" y1="235.65" x2="417" y2="235.65" stroke="#000" stroke-width="1.05"/>
<line x1="412.5" y1="247.36" x2="417" y2="247.36" stroke="#000" stroke-width="1.05"/>
<line x1="412.5" y1="259.07" x2="417" y2="259.07" stroke="#000" stroke-width="1.05"/>
<line x1="412.5" y1="270.78" x2="417" y2="270.78" stroke="#000" stroke-width="1.05"/>
<line x1="412.5" y1="282.49" x2="417" y2="282.49" stroke="#000" stroke-width="1.05"/>
<line x1="408.5" y1="294.20" x2="417" y2="294.20" stroke="#000" stroke-width="1.05"/>
<line x1="412.5" y1="305.91" x2="417" y2="305.91" stroke="#000" stroke-width="1.05"/>
<line x1="412.5" y1="317.62" x2="417" y2="317.62" stroke="#000" stroke-width="1.05"/>
<line x1="412.5" y1="329.33" x2="417" y2="329.33" stroke="#000" stroke-width="1.05"/>
<line x1="412.5" y1="341.04" x2="417" y2="341.04" stroke="#000" stroke-width="1.05"/>
<line x1="408.5" y1="352.75" x2="417" y2="352.75" stroke="#000" stroke-width="1.05"/>
<line x1="412.5" y1="364.46" x2="417" y2="364.46" stroke="#000" stroke-width="1.05"/>
<line x1="412.5" y1="376.17" x2="417" y2="376.17" stroke="#000" stroke-width="1.05"/>
<line x1="412.5" y1="387.88" x2="417" y2="387.88" stroke="#000" stroke-width="1.05"/>
<line x1="412.5" y1="399.59" x2="417" y2="399.59" stroke="#000" stroke-width="1.05"/>
<line x1="408.5" y1="411.30" x2="417" y2="411.30" stroke="#000" stroke-width="1.05"/>
<line x1="412.5" y1="423.01" x2="417" y2="423.01" stroke="#000" stroke-width="1.05"/>
<line x1="412.5" y1="434.72" x2="417" y2="434.72" stroke="#000" stroke-width="1.05"/>
<line x1="412.5" y1="446.43" x2="417" y2="446.43" stroke="#000" stroke-width="1.05"/>
<line x1="412.5" y1="458.14" x2="417" y2="458.14" stroke="#000" stroke-width="1.05"/>
<line x1="408.5" y1="469.85" x2="417" y2="469.85" stroke="#000" stroke-width="1.05"/>
<line x1="412.5" y1="481.56" x2="417" y2="481.56" stroke="#000" stroke-width="1.05"/>
<line x1="412.5" y1="493.27" x2="417" y2="493.27" stroke="#000" stroke-width="1.05"/>
<line x1="412.5" y1="504.98" x2="417" y2="504.98" stroke="#000" stroke-width="1.05"/>
<line x1="412.5" y1="516.69" x2="417" y2="516.69" stroke="#000" stroke-width="1.05"/>
<line x1="408.5" y1="528.40" x2="417" y2="528.40" stroke="#000" stroke-width="1.05"/>
<line x1="412.5" y1="540.11" x2="417" y2="540.11" stroke="#000" stroke-width="1.05"/>
<line x1="412.5" y1="551.82" x2="417" y2="551.82" stroke="#000" stroke-width="1.05"/>
<line x1="412.5" y1="563.53" x2="417" y2="563.53" stroke="#000" stroke-width="1.05"/>
<line x1="412.5" y1="575.24" x2="417" y2="575.24" stroke="#000" stroke-width="1.05"/>
<line x1="408.5" y1="586.95" x2="417" y2="586.95" stroke="#000" stroke-width="1.05"/>
<line x1="412.5" y1="598.66" x2="417" y2="598.66" stroke="#000" stroke-width="1.05"/>
<line x1="412.5" y1="610.37" x2="417" y2="610.37" stroke="#000" stroke-width="1.05"/>
<line x1="412.5" y1="622.08" x2="417" y2="622.08" stroke="#000" stroke-width="1.05"/>
<line x1="412.5" y1="633.79" x2="417" y2="633.79" stroke="#000" stroke-width="1.05"/>
<line x1="408.5" y1="645.50" x2="417" y2="645.50" stroke="#000" stroke-width="1.05"/>
<line x1="417.00" y1="51.7" x2="417.00" y2="60" stroke="#000" stroke-width="1.05"/>
<line x1="423.25" y1="56" x2="423.25" y2="60" stroke="#000" stroke-width="1.05"/>
<line x1="429.50" y1="56" x2="429.50" y2="60" stroke="#000" stroke-width="1.05"/>
<line x1="435.75" y1="56" x2="435.75" y2="60" stroke="#000" stroke-width="1.05"/>
<line x1="442.00" y1="56" x2="442.00" y2="60" stroke="#000" stroke-width="1.05"/>
<line x1="448.25" y1="51.7" x2="448.25" y2="60" stroke="#000" stroke-width="1.05"/>
<line x1="454.50" y1="56" x2="454.50" y2="60" stroke="#000" stroke-width="1.05"/>
<line x1="460.75" y1="56" x2="460.75" y2="60" stroke="#000" stroke-width="1.05"/>
<line x1="467.00" y1="56" x2="467.00" y2="60" stroke="#000" stroke-width="1.05"/>
<line x1="473.25" y1="56" x2="473.25" y2="60" stroke="#000" stroke-width="1.05"/>
<line x1="479.50" y1="51.7" x2="479.50" y2="60" stroke="#000" stroke-width="1.05"/>
<line x1="485.75" y1="56" x2="485.75" y2="60" stroke="#000" stroke-width="1.05"/>
<line x1="492.00" y1="56" x2="492.00" y2="60" stroke="#000" stroke-width="1.05"/>
<line x1="498.25" y1="56" x2="498.25" y2="60" stroke="#000" stroke-width="1.05"/>
<line x1="504.50" y1="56" x2="504.50" y2="60" stroke="#000" stroke-width="1.05"/>
<line x1="510.75" y1="51.7" x2="510.75" y2="60" stroke="#000" stroke-width="1.05"/>
<line x1="517.00" y1="56" x2="517.00" y2="60" stroke="#000" stroke-width="1.05"/>
<line x1="523.25" y1="56" x2="523.25" y2="60" stroke="#000" stroke-width="1.05"/>
<line x1="529.50" y1="56" x2="529.50" y2="60" stroke="#000" stroke-width="1.05"/>
<line x1="535.75" y1="56" x2="535.75" y2="60" stroke="#000" stroke-width="1.05"/>
<line x1="542.00" y1="51.7" x2="542.00" y2="60" stroke="#000" stroke-width="1.05"/>
<line x1="548.25" y1="56" x2="548.25" y2="60" stroke="#000" stroke-width="1.05"/>
<line x1="554.50" y1="56" x2="554.50" y2="60" stroke="#000" stroke-width="1.05"/>
<line x1="560.75" y1="56" x2="560.75" y2="60" stroke="#000" stroke-width="1.05"/>
<line x1="567.00" y1="56" x2="567.00" y2="60" stroke="#000" stroke-width="1.05"/>
<line x1="573.25" y1="51.7" x2="573.25" y2="60" stroke="#000" stroke-width="1.05"/>
<line x1="579.50" y1="56" x2="579.50" y2="60" stroke="#000" stroke-width="1.05"/>
<line x1="585.75" y1="56" x2="585.75" y2="60" stroke="#000" stroke-width="1.05"/>
<line x1="592.00" y1="56" x2="592.00" y2="60" stroke="#000" stroke-width="1.05"/>
<line x1="598.25" y1="56" x2="598.25" y2="60" stroke="#000" stroke-width="1.05"/>
<line x1="604.50" y1="51.7" x2="604.50" y2="60" stroke="#000" stroke-width="1.05"/>
<line x1="610.75" y1="56" x2="610.75" y2="60" stroke="#000" stroke-width="1.05"/>
<line x1="617.00" y1="56" x2="617.00" y2="60" stroke="#000" stroke-width="1.05"/>
<line x1="623.25" y1="56" x2="623.25" y2="60" stroke="#000" stroke-width="1.05"/>
<line x1="629.50" y1="56" x2="629.50" y2="60" stroke="#000" stroke-width="1.05"/>
<line x1="635.75" y1="51.7" x2="635.75" y2="60" stroke="#000" stroke-width="1.05"/>
<line x1="642.00" y1="56" x2="642.00" y2="60" stroke="#000" stroke-width="1.05"/>
<line x1="648.25" y1="56" x2="648.25" y2="60" stroke="#000" stroke-width="1.05"/>
<line x1="654.50" y1="56" x2="654.50" y2="60" stroke="#000" stroke-width="1.05"/>
<line x1="660.75" y1="56" x2="660.75" y2="60" stroke="#000" stroke-width="1.05"/>
<line x1="667.00" y1="51.7" x2="667.00" y2="60" stroke="#000" stroke-width="1.05"/>
<line x1="417.00" y1="645.5" x2="417.00" y2="653.5" stroke="#000" stroke-width="1.05"/>
<line x1="432.05" y1="645.5" x2="432.05" y2="649.5" stroke="#000" stroke-width="1.05"/>
<line x1="440.86" y1="645.5" x2="440.86" y2="649.5" stroke="#000" stroke-width="1.05"/>
<line x1="447.10" y1="645.5" x2="447.10" y2="649.5" stroke="#000" stroke-width="1.05"/>
<line x1="451.95" y1="645.5" x2="451.95" y2="649.5" stroke="#000" stroke-width="1.05"/>
<line x1="455.91" y1="645.5" x2="455.91" y2="649.5" stroke="#000" stroke-width="1.05"/>
<line x1="459.25" y1="645.5" x2="459.25" y2="649.5" stroke="#000" stroke-width="1.05"/>
<line x1="462.15" y1="645.5" x2="462.15" y2="649.5" stroke="#000" stroke-width="1.05"/>
<line x1="464.71" y1="645.5" x2="464.71" y2="649.5" stroke="#000" stroke-width="1.05"/>
<line x1="467.00" y1="645.5" x2="467.00" y2="653.5" stroke="#000" stroke-width="1.05"/>
<line x1="482.05" y1="645.5" x2="482.05" y2="649.5" stroke="#000" stroke-width="1.05"/>
<line x1="490.86" y1="645.5" x2="490.86" y2="649.5" stroke="#000" stroke-width="1.05"/>
<line x1="497.10" y1="645.5" x2="497.10" y2="649.5" stroke="#000" stroke-width="1.05"/>
<line x1="501.95" y1="645.5" x2="501.95" y2="649.5" stroke="#000" stroke-width="1.05"/>
<line x1="505.91" y1="645.5" x2="505.91" y2="649.5" stroke="#000" stroke-width="1.05"/>
<line x1="509.25" y1="645.5" x2="509.25" y2="649.5" stroke="#000" stroke-width="1.05"/>
<line x1="512.15" y1="645.5" x2="512.15" y2="649.5" stroke="#000" stroke-width="1.05"/>
<line x1="514.71" y1="645.5" x2="514.71" y2="649.5" stroke="#000" stroke-width="1.05"/>
<line x1="517.00" y1="645.5" x2="517.00" y2="653.5" stroke="#000" stroke-width="1.05"/>
<line x1="532.05" y1="645.5" x2="532.05" y2="649.5" stroke="#000" stroke-width="1.05"/>
<line x1="540.86" y1="645.5" x2="540.86" y2="649.5" stroke="#000" stroke-width="1.05"/>
<line x1="547.10" y1="645.5" x2="547.10" y2="649.5" stroke="#000" stroke-width="1.05"/>
<line x1="551.95" y1="645.5" x2="551.95" y2="649.5" stroke="#000" stroke-width="1.05"/>
<line x1="555.91" y1="645.5" x2="555.91" y2="649.5" stroke="#000" stroke-width="1.05"/>
<line x1="559.25" y1="645.5" x2="559.25" y2="649.5" stroke="#000" stroke-width="1.05"/>
<line x1="562.15" y1="645.5" x2="562.15" y2="649.5" stroke="#000" stroke-width="1.05"/>
<line x1="564.71" y1="645.5" x2="564.71" y2="649.5" stroke="#000" stroke-width="1.05"/>
<line x1="567.00" y1="645.5" x2="567.00" y2="653.5" stroke="#000" stroke-width="1.05"/>
<line x1="582.05" y1="645.5" x2="582.05" y2="649.5" stroke="#000" stroke-width="1.05"/>
<line x1="590.86" y1="645.5" x2="590.86" y2="649.5" stroke="#000" stroke-width="1.05"/>
<line x1="597.10" y1="645.5" x2="597.10" y2="649.5" stroke="#000" stroke-width="1.05"/>
<line x1="601.95" y1="645.5" x2="601.95" y2="649.5" stroke="#000" stroke-width="1.05"/>
<line x1="605.91" y1="645.5" x2="605.91" y2="649.5" stroke="#000" stroke-width="1.05"/>
<line x1="609.25" y1="645.5" x2="609.25" y2="649.5" stroke="#000" stroke-width="1.05"/>
<line x1="612.15" y1="645.5" x2="612.15" y2="649.5" stroke="#000" stroke-width="1.05"/>
<line x1="614.71" y1="645.5" x2="614.71" y2="649.5" stroke="#000" stroke-width="1.05"/>
<line x1="617.00" y1="645.5" x2="617.00" y2="653.5" stroke="#000" stroke-width="1.05"/>
<line x1="632.05" y1="645.5" x2="632.05" y2="649.5" stroke="#000" stroke-width="1.05"/>
<line x1="640.86" y1="645.5" x2="640.86" y2="649.5" stroke="#000" stroke-width="1.05"/>
<line x1="647.10" y1="645.5" x2="647.10" y2="649.5" stroke="#000" stroke-width="1.05"/>
<line x1="651.95" y1="645.5" x2="651.95" y2="649.5" stroke="#000" stroke-width="1.05"/>
<line x1="655.91" y1="645.5" x2="655.91" y2="649.5" stroke="#000" stroke-width="1.05"/>
<line x1="659.25" y1="645.5" x2="659.25" y2="649.5" stroke="#000" stroke-width="1.05"/>
<line x1="662.15" y1="645.5" x2="662.15" y2="649.5" stroke="#000" stroke-width="1.05"/>
<line x1="664.71" y1="645.5" x2="664.71" y2="649.5" stroke="#000" stroke-width="1.05"/>
<line x1="667.00" y1="645.5" x2="667.00" y2="653.5" stroke="#000" stroke-width="1.05"/>
<g transform="translate(201.30,17.10) scale(0.874,1)"><text x="0" y="0" font-size="17.5" text-anchor="middle" font-weight="normal" >Water Temperature (deg.C)</text></g>
<g transform="translate(541.30,17.10) scale(0.874,1)"><text x="0" y="0" font-size="17.5" text-anchor="middle" font-weight="normal" >Water Temperature (deg.C)</text></g>
<g transform="translate(77.00,38.60) scale(0.85,1)"><text x="0" y="0" font-size="18" text-anchor="middle" font-weight="normal" >0</text></g>
<g transform="translate(127.00,38.60) scale(0.85,1)"><text x="0" y="0" font-size="18" text-anchor="middle" font-weight="normal" >5</text></g>
<g transform="translate(177.00,38.60) scale(0.85,1)"><text x="0" y="0" font-size="18" text-anchor="middle" font-weight="normal" >10</text></g>
<g transform="translate(227.00,38.60) scale(0.85,1)"><text x="0" y="0" font-size="18" text-anchor="middle" font-weight="normal" >15</text></g>
<g transform="translate(277.00,38.60) scale(0.85,1)"><text x="0" y="0" font-size="18" text-anchor="middle" font-weight="normal" >20</text></g>
<g transform="translate(327.00,38.60) scale(0.85,1)"><text x="0" y="0" font-size="18" text-anchor="middle" font-weight="normal" >25</text></g>
<g transform="translate(417.00,38.60) scale(0.85,1)"><text x="0" y="0" font-size="18" text-anchor="middle" font-weight="normal" >2.90</text></g>
<g transform="translate(479.50,38.60) scale(0.85,1)"><text x="0" y="0" font-size="18" text-anchor="middle" font-weight="normal" >3.00</text></g>
<g transform="translate(542.00,38.60) scale(0.85,1)"><text x="0" y="0" font-size="18" text-anchor="middle" font-weight="normal" >3.10</text></g>
<g transform="translate(604.50,38.60) scale(0.85,1)"><text x="0" y="0" font-size="18" text-anchor="middle" font-weight="normal" >3.20</text></g>
<g transform="translate(667.00,38.60) scale(0.85,1)"><text x="0" y="0" font-size="18" text-anchor="middle" font-weight="normal" >3.30</text></g>
<g transform="translate(60.00,66.40) scale(0.85,1)"><text x="0" y="0" font-size="18" text-anchor="end" font-weight="normal" >0</text></g>
<g transform="translate(60.00,177.92) scale(0.85,1)"><text x="0" y="0" font-size="18" text-anchor="end" font-weight="normal" >200</text></g>
<g transform="translate(60.00,289.45) scale(0.85,1)"><text x="0" y="0" font-size="18" text-anchor="end" font-weight="normal" >400</text></g>
<g transform="translate(60.00,400.97) scale(0.85,1)"><text x="0" y="0" font-size="18" text-anchor="end" font-weight="normal" >600</text></g>
<g transform="translate(60.00,512.50) scale(0.85,1)"><text x="0" y="0" font-size="18" text-anchor="end" font-weight="normal" >800</text></g>
<g transform="translate(60.00,624.02) scale(0.85,1)"><text x="0" y="0" font-size="18" text-anchor="end" font-weight="normal" >1000</text></g>
<g transform="translate(400.00,66.40) scale(0.85,1)"><text x="0" y="0" font-size="18" text-anchor="end" font-weight="normal" >950</text></g>
<g transform="translate(400.00,183.50) scale(0.85,1)"><text x="0" y="0" font-size="18" text-anchor="end" font-weight="normal" >970</text></g>
<g transform="translate(400.00,300.60) scale(0.85,1)"><text x="0" y="0" font-size="18" text-anchor="end" font-weight="normal" >990</text></g>
<g transform="translate(400.00,417.70) scale(0.85,1)"><text x="0" y="0" font-size="18" text-anchor="end" font-weight="normal" >1010</text></g>
<g transform="translate(400.00,534.80) scale(0.85,1)"><text x="0" y="0" font-size="18" text-anchor="end" font-weight="normal" >1030</text></g>
<g transform="translate(400.00,651.90) scale(0.85,1)"><text x="0" y="0" font-size="18" text-anchor="end" font-weight="normal" >1050</text></g>
<g transform="translate(18.2,352) rotate(-90) scale(0.85,1)"><text x="0" y="0" font-size="17.5" text-anchor="middle">Depth (m)</text></g>
<g transform="translate(358.2,352) rotate(-90) scale(0.85,1)"><text x="0" y="0" font-size="17.5" text-anchor="middle">Depth (m)</text></g>
<g transform="translate(99.50,96.10) scale(0.78,1)"><text x="0" y="0" font-size="32" text-anchor="middle" font-weight="bold" >(a)</text></g>
<g transform="translate(437.80,96.20) scale(0.78,1)"><text x="0" y="0" font-size="32" text-anchor="middle" font-weight="bold" >(b)</text></g>
<g transform="translate(77.00,680.9) scale(0.9,1)"><text x="0" y="0" font-size="18" text-anchor="middle">10<tspan font-size="9.4" dy="-10.2">-11</tspan></text></g>
<g transform="translate(127.00,680.9) scale(0.9,1)"><text x="0" y="0" font-size="18" text-anchor="middle">10<tspan font-size="9.4" dy="-10.2">-10</tspan></text></g>
<g transform="translate(177.00,680.9) scale(0.9,1)"><text x="0" y="0" font-size="18" text-anchor="middle">10<tspan font-size="9.4" dy="-10.2">-9</tspan></text></g>
<g transform="translate(227.00,680.9) scale(0.9,1)"><text x="0" y="0" font-size="18" text-anchor="middle">10<tspan font-size="9.4" dy="-10.2">-8</tspan></text></g>
<g transform="translate(277.00,680.9) scale(0.9,1)"><text x="0" y="0" font-size="18" text-anchor="middle">10<tspan font-size="9.4" dy="-10.2">-7</tspan></text></g>
<g transform="translate(327.00,680.9) scale(0.9,1)"><text x="0" y="0" font-size="18" text-anchor="middle">10<tspan font-size="9.4" dy="-10.2">-6</tspan></text></g>
<g transform="translate(417.00,680.9) scale(0.9,1)"><text x="0" y="0" font-size="18" text-anchor="middle">10<tspan font-size="9.4" dy="-10.2">-10</tspan></text></g>
<g transform="translate(467.00,680.9) scale(0.9,1)"><text x="0" y="0" font-size="18" text-anchor="middle">10<tspan font-size="9.4" dy="-10.2">-9</tspan></text></g>
<g transform="translate(517.00,680.9) scale(0.9,1)"><text x="0" y="0" font-size="18" text-anchor="middle">10<tspan font-size="9.4" dy="-10.2">-8</tspan></text></g>
<g transform="translate(567.00,680.9) scale(0.9,1)"><text x="0" y="0" font-size="18" text-anchor="middle">10<tspan font-size="9.4" dy="-10.2">-7</tspan></text></g>
<g transform="translate(617.00,680.9) scale(0.9,1)"><text x="0" y="0" font-size="18" text-anchor="middle">10<tspan font-size="9.4" dy="-10.2">-6</tspan></text></g>
<g transform="translate(667.00,680.9) scale(0.9,1)"><text x="0" y="0" font-size="18" text-anchor="middle">10<tspan font-size="9.4" dy="-10.2">-5</tspan></text></g>
<g transform="translate(104.50,706.1) scale(0.872,1)"><text x="0" y="0" font-size="17.5">Turbulent intensity</text></g>
<g transform="translate(232.60,706.50) scale(0.85,1)"><text x="0" y="0" font-size="16.3">(</text></g>
<g transform="translate(236.90,706.00) scale(0.9,1)"><text x="0" y="0" font-size="13.5">ε</text></g>
<g transform="translate(246.40,706.20) scale(0.85,1)"><text x="0" y="0" font-size="16">[</text></g>
<g transform="translate(250.30,705.50) scale(0.8,1)"><text x="0" y="0" font-size="15.5">W</text></g>
<g transform="translate(265.60,705.50) scale(0.8,1)"><text x="0" y="0" font-size="15.5">kg</text></g>
<g transform="translate(279.50,701.20) scale(0.85,1)"><text x="0" y="0" font-size="13">-</text></g>
<g transform="translate(285.20,699.90) scale(0.85,1)"><text x="0" y="0" font-size="13">1</text></g>
<g transform="translate(291.30,706.20) scale(0.85,1)"><text x="0" y="0" font-size="16">]</text></g>
<g transform="translate(295.00,706.20) scale(0.85,1)"><text x="0" y="0" font-size="16">)</text></g>
<g transform="translate(444.50,706.1) scale(0.872,1)"><text x="0" y="0" font-size="17.5">Turbulent intensity</text></g>
<g transform="translate(572.60,706.50) scale(0.85,1)"><text x="0" y="0" font-size="16.3">(</text></g>
<g transform="translate(576.90,706.00) scale(0.9,1)"><text x="0" y="0" font-size="13.5">ε</text></g>
<g transform="translate(586.40,706.20) scale(0.85,1)"><text x="0" y="0" font-size="16">[</text></g>
<g transform="translate(590.30,705.50) scale(0.8,1)"><text x="0" y="0" font-size="15.5">W</text></g>
<g transform="translate(605.60,705.50) scale(0.8,1)"><text x="0" y="0" font-size="15.5">kg</text></g>
<g transform="translate(619.50,701.20) scale(0.85,1)"><text x="0" y="0" font-size="13">-</text></g>
<g transform="translate(625.20,699.90) scale(0.85,1)"><text x="0" y="0" font-size="13">1</text></g>
<g transform="translate(631.30,706.20) scale(0.85,1)"><text x="0" y="0" font-size="16">]</text></g>
<g transform="translate(635.00,706.20) scale(0.85,1)"><text x="0" y="0" font-size="16">)</text></g></svg>
</body></html>
